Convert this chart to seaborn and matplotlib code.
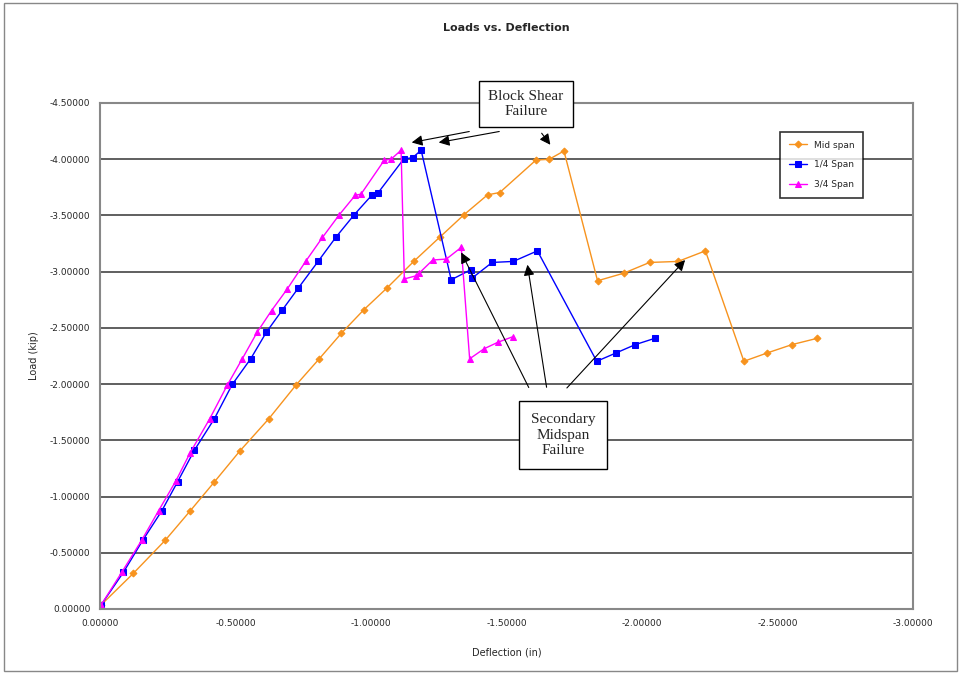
import matplotlib
matplotlib.use("Agg")
import matplotlib.pyplot as plt
import seaborn as sns
import pandas as pd

mid_x = [0.004,0.123,0.241,0.333,0.422,0.516,0.623,0.722,0.809,0.891,0.973,1.059,1.158,1.253,1.343,1.430,1.475,1.609,1.657,1.712,1.836,1.932,1.932,2.028,2.133,2.234,2.376,2.463,2.553,2.646]
mid_y = [0.036,0.317,0.612,0.873,1.130,1.405,1.692,1.988,2.225,2.453,2.660,2.855,3.092,3.305,3.506,3.683,3.704,3.993,3.999,4.073,2.919,2.949,3.023,3.082,3.091,3.185,2.203,2.278,2.351,2.407]
q1_x = [0.004,0.086,0.158,0.228,0.286,0.348,0.422,0.488,0.556,0.614,0.673,0.732,0.805,0.870,0.938,1.004,1.027,1.120,1.154,1.185,1.296,1.368,1.373,1.447,1.525,1.614,1.833,1.905,1.975,2.047]
q1_y = [0.036,0.325,0.612,0.873,1.130,1.411,1.692,1.997,2.225,2.462,2.660,2.855,3.092,3.305,3.506,3.683,3.704,4.000,4.015,4.080,2.928,3.017,2.943,3.082,3.091,3.185,2.203,2.278,2.351,2.407]
q3_x = [0.004,0.080,0.154,0.216,0.280,0.333,0.405,0.469,0.525,0.580,0.633,0.691,0.759,0.821,0.883,0.942,0.963,1.049,1.074,1.111,1.123,1.167,1.177,1.228,1.278,1.333,1.364,1.417,1.469,1.525]
q3_y = [0.036,0.325,0.612,0.873,1.139,1.391,1.692,1.988,2.225,2.462,2.654,2.846,3.092,3.305,3.506,3.680,3.689,3.991,4.000,4.080,2.935,2.964,2.985,3.104,3.112,3.216,2.225,2.314,2.373,2.423]

series = [("Mid span", mid_x, mid_y, "#F7931E", "D", 3.5),
          ("1/4 Span", q1_x, q1_y, "#0000FF", "s", 5),
          ("3/4 Span", q3_x, q3_y, "#FF00FF", "^", 5)]

sns.set_style("white")
fig = plt.figure(figsize=(9.61, 6.75), dpi=100)
ax = fig.add_axes([100/961, 1-609/675, 813/961, 506/675])

for name, xs, ys, col, mk, ms in series:
    df = pd.DataFrame({"x": [-v for v in xs], "y": [-v for v in ys]})
    sns.lineplot(data=df, x="x", y="y", sort=False, ax=ax, color=col, marker=mk,
                 markersize=ms, markeredgecolor=col, linewidth=1, label=name)

ax.set_xlim(0, -3)
ax.set_ylim(0, -4.5)
xt = [0, -0.5, -1, -1.5, -2, -2.5, -3]
yt = [0, -0.5, -1, -1.5, -2, -2.5, -3, -3.5, -4, -4.5]
ax.set_xticks(xt)
ax.set_xticklabels([f"{v:.5f}" for v in xt], fontsize=6.5)
ax.set_yticks(yt)
ax.set_yticklabels([f"{v:.5f}" for v in yt], fontsize=6.5)
ax.grid(axis="y", color="#444444", linewidth=1.2)
ax.grid(axis="x", visible=False)
for s in ax.spines.values():
    s.set_color("#888888"); s.set_linewidth(1.5)
ax.set_xlabel("Deflection (in)", fontsize=7, labelpad=14)
ax.set_ylabel("Load (kip)", fontsize=7, labelpad=8)
ax.set_title("Loads vs. Deflection", fontsize=8, fontweight="bold", pad=52)

leg = ax.legend(loc="upper right", bbox_to_anchor=(868/961, 1-127/675), bbox_transform=fig.transFigure,
                fontsize=6.5, frameon=True, fancybox=False, edgecolor="black", borderpad=1.0, labelspacing=1.2)
leg.get_frame().set_linewidth(1.2)

def fp(x, y):
    return (x, 675 - y)

fig.text(526/961, 1-104/675, "Block Shear\nFailure", ha="center", va="center", fontsize=11,
         family="Liberation Serif", bbox=dict(boxstyle="square,pad=0.6", fc="white", ec="black", lw=1))
ap = dict(arrowstyle="-|>", color="black", lw=0.8, mutation_scale=16)
for (sx, sy), (tx, ty) in [((472, 131), (409, 143)), ((502, 131), (436, 143)), ((540, 131), (552, 147))]:
    ax.annotate("", xy=fp(tx, ty), xytext=fp(sx, sy), xycoords="figure pixels",
                textcoords="figure pixels", arrowprops=ap)
fig.text(563/961, 1-435/675, "Secondary\nMidspan\nFailure", ha="center", va="center", fontsize=11,
         family="Liberation Serif", bbox=dict(boxstyle="square,pad=0.8", fc="white", ec="black", lw=1))
for (sx, sy), (tx, ty) in [((530, 390), (460, 250)), ((547, 390), (527, 262)), ((565, 390), (687, 258))]:
    ax.annotate("", xy=fp(tx, ty), xytext=fp(sx, sy), xycoords="figure pixels",
                textcoords="figure pixels", arrowprops=ap)

fig.patches.append(plt.Rectangle((0.004, 0.006), 0.992, 0.99, transform=fig.transFigure,
                                 fill=False, ec="#888888", lw=1))
fig.savefig("out.png", dpi=100)
